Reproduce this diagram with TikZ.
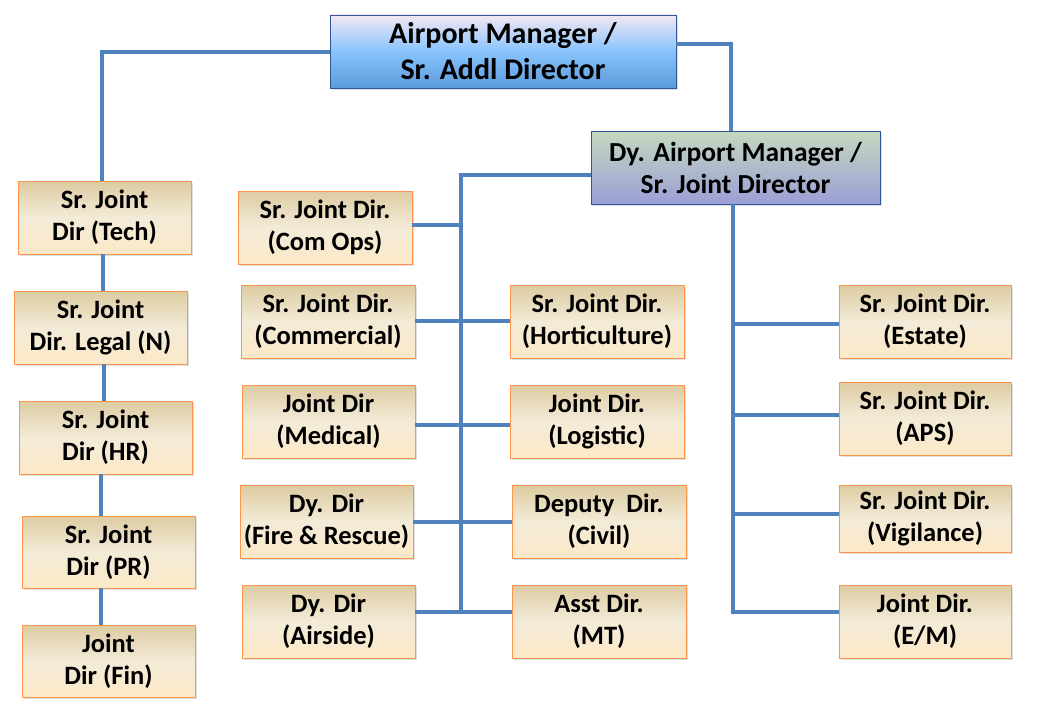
\documentclass[tikz,border=0pt]{standalone}
\usepackage{fontspec}
\setmainfont{Carlito}
\usetikzlibrary{shadows}
\begin{document}
\begin{tikzpicture}[x=1pt,y=-1pt,
 ln/.style={draw=lnc,line width=3.4pt},
 ob/.style={draw=orange!80!red!70,line width=0.8pt,top color=oT,bottom color=oB,middle color=oM,align=center,font=\fontsize{26.5}{32}\selectfont\bfseries,inner sep=0pt,drop shadow={opacity=0.25,shadow xshift=2pt,shadow yshift=-2pt}},
 bb/.style={draw=bd,line width=0.8pt,align=center,inner sep=0pt,drop shadow={opacity=0.25,shadow xshift=2pt,shadow yshift=-2pt}}]
\definecolor{lnc}{HTML}{4F81BD}
\definecolor{oT}{HTML}{DDCCA2}
\definecolor{oM}{HTML}{F3EBD8}
\definecolor{oB}{HTML}{FDE9C8}
\definecolor{bd}{HTML}{2F5597}
\definecolor{tT}{HTML}{F4E8F2}
\definecolor{tM}{HTML}{86C3FF}
\definecolor{tB}{HTML}{5C9BDA}
\definecolor{dT}{HTML}{C4D8BE}
\definecolor{dM}{HTML}{D4DEFC}
\definecolor{dB}{HTML}{9C9FD6}
\useasboundingbox (0,0) rectangle (1039,717);
\fill[white] (0,0) rectangle (1039,717);
\newcommand\bx[7]{\node[#6,minimum width={#4-#2},minimum height={#5-#3}] (#1) at ({(#2+#4)/2},{(#3+#5)/2}) {#7};}
\bx{top}{330}{15}{676}{88}{bb,top color=tT,bottom color=tB,middle color=tM,font=\fontsize{30}{36}\selectfont\bfseries}{Airport Manager /\\Sr. Addl Director}
\bx{dy}{591}{131}{880}{204}{bb,top color=dT,middle color=dM,bottom color=dB,font=\fontsize{27.5}{32}\selectfont\bfseries}{Dy. Airport Manager /\\Sr. Joint Director}
\bx{tech}{18}{181}{191}{254}{ob}{Sr. Joint\\Dir (Tech)}
\bx{legal}{14}{291}{187}{364}{ob}{Sr. Joint\\Dir. Legal (N)}
\bx{hr}{19}{401}{192}{474}{ob}{Sr. Joint\\Dir (HR)}
\bx{pr}{22}{516}{195}{588}{ob}{Sr. Joint\\Dir (PR)}
\bx{fin}{22}{625}{195}{697}{ob}{Joint\\Dir (Fin)}
\bx{comops}{238}{191}{412}{264}{ob}{Sr. Joint Dir.\\(Com Ops)}
\bx{comm}{241}{285}{415}{358}{ob}{Sr. Joint Dir.\\(Commercial)}
\bx{med}{242}{385}{415}{458}{ob}{Joint Dir\\(Medical)}
\bx{fire}{240}{485}{413}{558}{ob}{Dy. Dir\\(Fire \& Rescue)}
\bx{air}{242}{585}{415}{658}{ob}{Dy. Dir\\(Airside)}
\bx{hort}{510}{285}{684}{358}{ob}{Sr. Joint Dir.\\(Horticulture)}
\bx{log}{510}{385}{684}{458}{ob}{Joint Dir.\\(Logistic)}
\bx{civ}{512}{485}{686}{558}{ob}{Deputy~ Dir.\\(Civil)}
\bx{mt}{512}{585}{686}{658}{ob}{Asst Dir.\\(MT)}
\bx{est}{839}{285}{1011}{358}{ob}{Sr. Joint Dir.\\(Estate)}
\bx{aps}{839}{382}{1011}{455}{ob}{Sr. Joint Dir.\\(APS)}
\bx{vig}{839}{485}{1011}{552}{ob}{Sr. Joint Dir.\\(Vigilance)}
\bx{em}{839}{585}{1011}{658}{ob}{Joint Dir.\\(E/M)}
\coordinate (tl) at (102,52); \coordinate (tr) at (731,44);
\coordinate (ml) at (461,175); \coordinate (mb) at (461,612);
\coordinate (rb) at (733,612);
\draw[ln] (top.west|-tl) -- (tl) -- (tl|-tech.north);
\draw[ln] (tech.south-|103,0) -- (103,0|-legal.north);
\draw[ln] (legal.south-|104,0) -- (104,0|-hr.north);
\draw[ln] (hr.south-|101,0) -- (101,0|-pr.north);
\draw[ln] (pr.south-|101,0) -- (101,0|-fin.north);
\draw[ln] (top.east|-tr) -- (tr) -- (tr|-dy.north);
\draw[ln] (dy.west|-ml) -- (ml) -- (mb);
\draw[ln] (comops.east|-0,225) -- (ml|-0,225);
\draw[ln] (comm.east|-0,321) -- (hort.west|-0,321);
\draw[ln] (med.east|-0,425) -- (log.west|-0,425);
\draw[ln] (fire.east|-0,522) -- (civ.west|-0,522);
\draw[ln] (air.east|-0,612) -- (mt.west|-0,612);
\draw[ln] (dy.south-|rb) -- (rb) -- (em.west|-rb);
\draw[ln] (rb|-0,324) -- (est.west|-0,324);
\draw[ln] (rb|-0,415) -- (aps.west|-0,415);
\draw[ln] (rb|-0,514) -- (vig.west|-0,514);
\end{tikzpicture}
\end{document}
